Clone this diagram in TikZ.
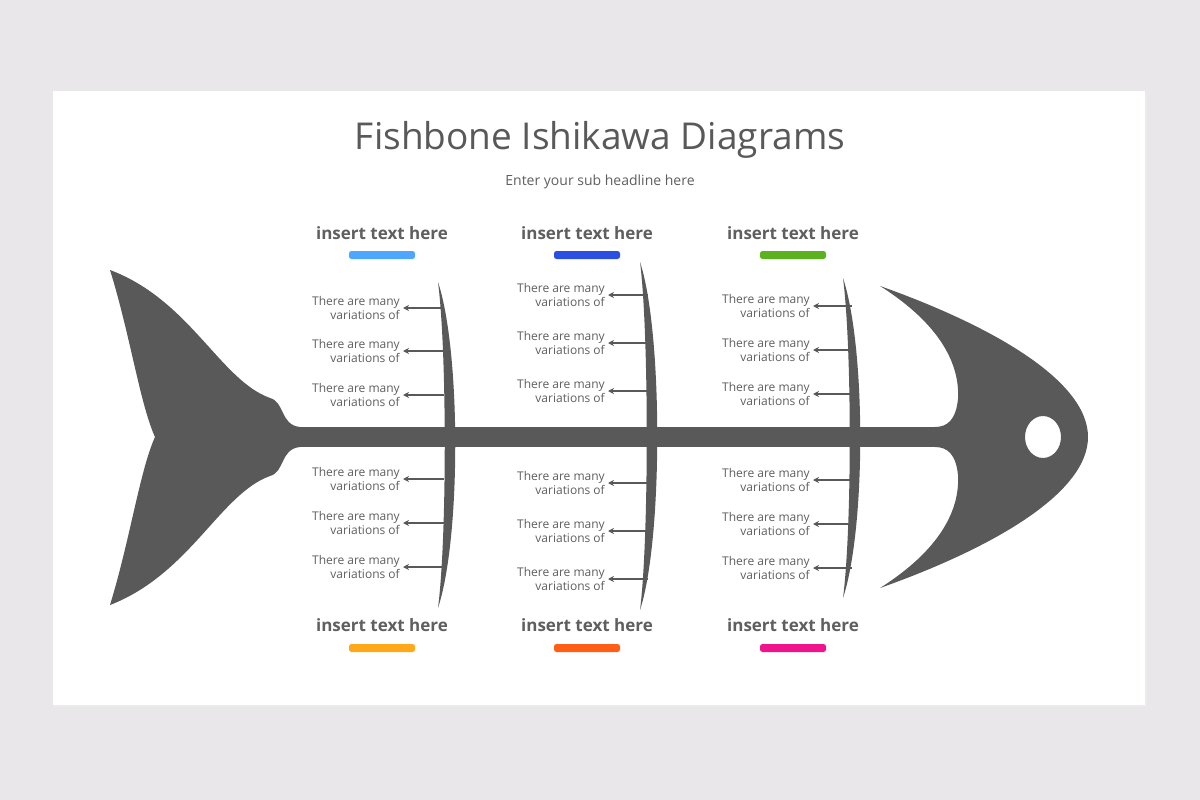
\documentclass[tikz,border=0pt]{standalone}
\usepackage{fontspec}
\setmainfont{Open Sans}
\usetikzlibrary{arrows.meta}
\definecolor{bg}{HTML}{E9E7E9}
\definecolor{fish}{HTML}{595959}
\definecolor{tx}{HTML}{5F5F5F}
\definecolor{cA}{HTML}{4DA6FF}\definecolor{cB}{HTML}{2B4FE0}\definecolor{cC}{HTML}{5CB21E}
\definecolor{cD}{HTML}{FFA91A}\definecolor{cE}{HTML}{FF5E14}\definecolor{cF}{HTML}{F0148C}
\tikzset{
 item/.style={align=right,anchor=east,text=tx,font=\fontsize{12}{14}\selectfont,inner sep=0pt},
 head/.style={text=tx,font=\bfseries\fontsize{17}{20}\selectfont,inner sep=0pt},
 bar/.style={fill=#1,rounded corners=2.5pt},
 arr/.style={draw=fish,line width=1.6pt,-{Stealth[length=6pt,width=6pt]}},
}
\begin{document}
\begin{tikzpicture}[x=1pt,y=-1pt]
\useasboundingbox (0,0) rectangle (1200,800);
\fill[bg] (0,0) rectangle (1200,800);
\fill[black!8] (54,93) rectangle (1147,707);
\fill[white] (53,91) rectangle (1145,705);
\node[text=fish,font=\fontsize{37}{40}\selectfont] (title) at (600,140) {Fishbone Ishikawa Diagrams};
\node[text=tx,font=\fontsize{14}{16}\selectfont] (sub) at (600,182) {Enter your sub headline here};
% tail
\fill[fish] (110,270) .. controls (190,300) and (220,380) .. (270,398)
  .. controls (285,402) and (280,425) .. (300,427) -- (300,447)
  .. controls (280,449) and (285,472) .. (270,476)
  .. controls (220,494) and (190,574) .. (110,605)
  .. controls (130,540) and (140,470) .. (155,437)
  .. controls (140,404) and (130,334) .. (110,270) -- cycle;
% spine
\fill[fish] (295,427) rectangle (950,447);
% head
\fill[fish,even odd rule] (880,286) .. controls (990,325) and (1088,380) .. (1088,437)
  .. controls (1088,494) and (990,549) .. (880,588)
  .. controls (940,550) and (960,510) .. (958,475)
  .. controls (956,455) and (948,447) .. (935,447) -- (935,427)
  .. controls (948,427) and (956,419) .. (958,399)
  .. controls (960,364) and (940,324) .. (880,286) -- cycle
  (1043,437) ellipse [x radius=18,y radius=21];
% ribs
\foreach \n/\xt/\yt/\yb/\xm in {1/438/282/608/453, 2/640/262/610/655, 3/843/278/598/858}{
  \fill[fish] (\xt,\yt) .. controls (\xm+8,\yt+70) and (\xm+8,\yb-70) .. (\xt,\yb)
    .. controls (\xm-6,\yb-70) and (\xm-6,\yt+70) .. (\xt,\yt) -- cycle;
}
% items
\foreach \rx/\tx/\ys in {444/400/{308,351,395,479,523,567}, 648/605/{295,343,391,483,531,579}, 852/810/{306,350,394,480,524,568}}{
  \foreach \y [count=\i] in \ys {
    \node[item] (t\rx-\i) at (\tx,\y) {There are many\\variations of};
    \coordinate (r\rx-\i) at (\rx,\y);
    \draw[arr] (r\rx-\i) -- ([xshift=3pt]t\rx-\i.east);
  }
}
% headings
\foreach \x/\c/\d in {382/cA/cD, 587/cB/cE, 793/cC/cF}{
  \node[head] (h\x) at (\x,233) {insert text here};
  \fill[bar=\c] (\x-33,251) rectangle (\x+33,259);
  \node[head] (g\x) at (\x,625) {insert text here};
  \fill[bar=\d] (\x-33,644) rectangle (\x+33,652);
}
\end{tikzpicture}
\end{document}
